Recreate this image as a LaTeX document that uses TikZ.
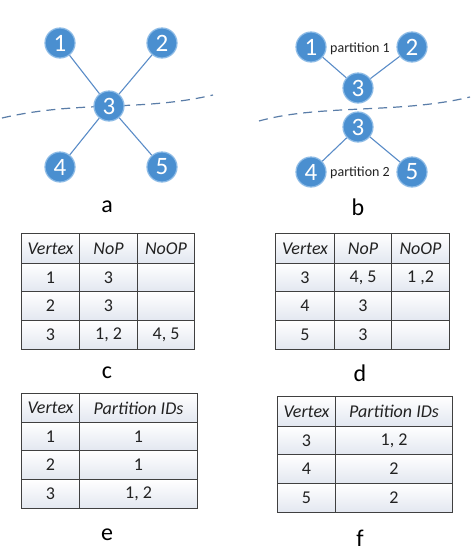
\documentclass[tikz,border=0pt]{standalone}
\usepackage{fontspec}
\setmainfont{Carlito}
\definecolor{nodeblue}{HTML}{4A8FD0}
\definecolor{noderim}{HTML}{8DBBE6}
\definecolor{edgeblue}{HTML}{5B8DC8}
\definecolor{dashblue}{HTML}{5A7DA8}
\definecolor{cellbot}{HTML}{E2E7F0}
\definecolor{gridgray}{HTML}{404040}
\definecolor{txt}{HTML}{222222}
\tikzset{
  vert/.style={circle, fill=nodeblue, draw=noderim, line width=1.2pt, minimum size=30pt, inner sep=0pt, text=white, font=\fontsize{25}{25}\selectfont},
  edge/.style={edgeblue, line width=1.1pt},
  cut/.style={dashblue, line width=1.2pt, dash pattern=on 9pt off 6pt},
  sublabel/.style={text=black, font=\fontsize{24}{24}\selectfont},
  partlabel/.style={text=txt, font=\fontsize{14}{14}\selectfont},
  cellbox/.style={rectangle, draw=gridgray, line width=1.1pt, top color=white, bottom color=cellbot, inner sep=0pt, anchor=north west, text=txt, font=\fontsize{18}{18}\selectfont},
}
\newcommand\tcell[6]{\node[cellbox, minimum width={(#4-#2)*1pt}, minimum height={(#5-#3)*1pt}] (#1) at (#2,#3) {#6};}
\begin{document}
\begin{tikzpicture}[x=1pt,y=-1pt]
\useasboundingbox[fill=white] (0,0) rectangle (474,552);
% ---- a ----
\draw[cut] (2,118) .. controls (80,100) and (140,112) .. (213,95);
\node[vert] (a3) at (109,106) {3};
\node[vert] (a1) at (60,43) {1};
\node[vert] (a2) at (162,43) {2};
\node[vert] (a4) at (60,167) {4};
\node[vert] (a5) at (162,167) {5};
\draw[edge] (a1) -- (a3);
\draw[edge] (a2) -- (a3);
\draw[edge] (a4) -- (a3);
\draw[edge] (a5) -- (a3);
\node[sublabel] (la) at (107,207) {a};
% ---- b ----
\draw[cut] (259,121) .. controls (320,104) and (400,114) .. (470,97);
\node[vert] (b1) at (311,47) {1};
\node[vert] (b2) at (412,47) {2};
\node[vert] (b3u) at (358,88) {3};
\node[vert] (b3l) at (358,127) {3};
\node[vert] (b4) at (311,172) {4};
\node[vert] (b5) at (412,172) {5};
\draw[edge] (b1) -- (b3u);
\draw[edge] (b2) -- (b3u);
\draw[edge] (b4) -- (b3l);
\draw[edge] (b5) -- (b3l);
\node[partlabel] (p1) at (360,49) {partition 1};
\node[partlabel] (p2) at (360,173) {partition 2};
\node[sublabel] (lb) at (358,207) {b};
% ---- c ----
\tcell{c11}{21}{233}{79}{263}{\itshape Vertex}
\tcell{c12}{79}{233}{137}{263}{\itshape NoP}
\tcell{c13}{137}{233}{194}{263}{\itshape NoOP}
\tcell{c21}{21}{263}{79}{291}{1}
\tcell{c22}{79}{263}{137}{291}{3}
\tcell{c23}{137}{263}{194}{291}{}
\tcell{c31}{21}{291}{79}{320}{2}
\tcell{c32}{79}{291}{137}{320}{3}
\tcell{c33}{137}{291}{194}{320}{}
\tcell{c41}{21}{320}{79}{349}{3}
\tcell{c42}{79}{320}{137}{349}{1, 2}
\tcell{c43}{137}{320}{194}{349}{4, 5}
\node[sublabel] (lc) at (107,373) {c};
% ---- d ----
\tcell{d11}{275}{233}{334}{263}{\itshape Vertex}
\tcell{d12}{334}{233}{391}{263}{\itshape NoP}
\tcell{d13}{391}{233}{449}{263}{\itshape NoOP}
\tcell{d21}{275}{263}{334}{291}{3}
\tcell{d22}{334}{263}{391}{291}{4, 5}
\tcell{d23}{391}{263}{449}{291}{1 ,2}
\tcell{d31}{275}{291}{334}{320}{4}
\tcell{d32}{334}{291}{391}{320}{3}
\tcell{d33}{391}{291}{449}{320}{}
\tcell{d41}{275}{320}{334}{349}{5}
\tcell{d42}{334}{320}{391}{349}{3}
\tcell{d43}{391}{320}{449}{349}{}
\node[sublabel] (ld) at (360,373) {d};
% ---- e ----
\tcell{e11}{21}{393}{79}{422}{\itshape Vertex}
\tcell{e12}{79}{393}{197}{422}{\itshape Partition IDs}
\tcell{e21}{21}{422}{79}{450}{1}
\tcell{e22}{79}{422}{197}{450}{1}
\tcell{e31}{21}{450}{79}{479}{2}
\tcell{e32}{79}{450}{197}{479}{1}
\tcell{e41}{21}{479}{79}{508}{3}
\tcell{e42}{79}{479}{197}{508}{1, 2}
\node[sublabel] (le) at (107,535) {e};
% ---- f ----
\tcell{f11}{277}{396}{335}{426}{\itshape Vertex}
\tcell{f12}{335}{396}{452}{426}{\itshape Partition IDs}
\tcell{f21}{277}{426}{335}{454}{3}
\tcell{f22}{335}{426}{452}{454}{1, 2}
\tcell{f31}{277}{454}{335}{483}{4}
\tcell{f32}{335}{454}{452}{483}{2}
\tcell{f41}{277}{483}{335}{512}{5}
\tcell{f42}{335}{483}{452}{512}{2}
\node[sublabel] (lf) at (360,538) {f};
\end{tikzpicture}
\end{document}
